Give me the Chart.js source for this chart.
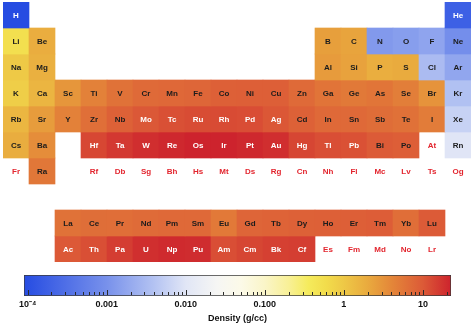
<!DOCTYPE html>
<html>
<head>
<meta charset="utf-8">
<script src="https://cdn.jsdelivr.net/npm/chart.js@4.4.1/dist/chart.umd.min.js"></script>
<style>
  html, body { margin: 0; padding: 0; background: #fff; }
  body { width: 474px; height: 326px; position: relative; overflow: hidden; }
  #table { position: absolute; left: 3px; top: 2px; }
  #bar { position: absolute; left: 0; top: 268px; }
</style>
</head>
<body>
<canvas id="table" width="468" height="260"></canvas>
<canvas id="bar" width="474" height="58"></canvas>
<script>
// periodic table layout, one array per table row ('' = empty slot)
const tableRows = [
  ['H', '', '', '', '', '', '', '', '', '', '', '', '', '', '', '', '', 'He'],
  ['Li', 'Be', '', '', '', '', '', '', '', '', '', '', 'B', 'C', 'N', 'O', 'F', 'Ne'],
  ['Na', 'Mg', '', '', '', '', '', '', '', '', '', '', 'Al', 'Si', 'P', 'S', 'Cl', 'Ar'],
  ['K', 'Ca', 'Sc', 'Ti', 'V', 'Cr', 'Mn', 'Fe', 'Co', 'Ni', 'Cu', 'Zn', 'Ga', 'Ge', 'As', 'Se', 'Br', 'Kr'],
  ['Rb', 'Sr', 'Y', 'Zr', 'Nb', 'Mo', 'Tc', 'Ru', 'Rh', 'Pd', 'Ag', 'Cd', 'In', 'Sn', 'Sb', 'Te', 'I', 'Xe'],
  ['Cs', 'Ba', '', 'Hf', 'Ta', 'W', 'Re', 'Os', 'Ir', 'Pt', 'Au', 'Hg', 'Tl', 'Pb', 'Bi', 'Po', 'At', 'Rn'],
  ['Fr', 'Ra', '', 'Rf', 'Db', 'Sg', 'Bh', 'Hs', 'Mt', 'Ds', 'Rg', 'Cn', 'Nh', 'Fl', 'Mc', 'Lv', 'Ts', 'Og'],
  ['', '', '', '', '', '', '', '', '', '', '', '', '', '', '', '', '', ''],
  ['', '', 'La', 'Ce', 'Pr', 'Nd', 'Pm', 'Sm', 'Eu', 'Gd', 'Tb', 'Dy', 'Ho', 'Er', 'Tm', 'Yb', 'Lu', ''],
  ['', '', 'Ac', 'Th', 'Pa', 'U', 'Np', 'Pu', 'Am', 'Cm', 'Bk', 'Cf', 'Es', 'Fm', 'Md', 'No', 'Lr', '']
];

// density in g/cc, same shape as tableRows (null = no data)
const n = null;
const densityRows = [
  [8.99e-5, n, n, n, n, n, n, n, n, n, n, n, n, n, n, n, n, 1.785e-4],
  [0.535, 1.848, n, n, n, n, n, n, n, n, n, n, 2.46, 2.26, 0.001251, 0.001429, 0.001696, 0.0009],
  [0.968, 1.738, n, n, n, n, n, n, n, n, n, n, 2.70, 2.33, 1.823, 1.96, 0.003214, 0.001784],
  [0.856, 1.55, 2.985, 4.507, 6.11, 7.19, 7.47, 7.874, 8.90, 8.908, 8.96, 7.14, 5.904, 5.323, 5.727, 4.819, 3.12, 0.00375],
  [1.532, 2.63, 4.472, 6.511, 8.57, 10.28, 11.5, 12.37, 12.45, 12.023, 10.49, 8.65, 7.31, 7.31, 6.697, 6.24, 4.94, 0.0059],
  [1.879, 3.51, n, 13.31, 16.65, 19.25, 21.02, 22.61, 22.65, 21.09, 19.3, 13.534, 11.85, 11.34, 9.78, 9.196, n, 0.00973],
  [n, 5.5, n, n, n, n, n, n, n, n, n, n, n, n, n, n, n, n],
  [n, n, n, n, n, n, n, n, n, n, n, n, n, n, n, n, n, n],
  [n, n, 6.146, 6.689, 6.64, 7.01, 7.264, 7.353, 5.244, 7.901, 8.219, 8.551, 8.795, 9.066, 9.321, 6.57, 9.841, n],
  [n, n, 10.07, 11.724, 15.37, 19.05, 20.45, 19.816, 12.0, 13.51, 14.78, 15.1, n, n, n, n, n, n]
];

const groups = Array.from({ length: 18 }, (_, i) => String(i + 1));

const tickValues = [1e-4, 1e-3, 1e-2, 0.1, 1, 10];
const tickLabels = ['10\u207B\u2074', '0.001', '0.010', '0.100', '1', '10'];

const FONT = '"Liberation Sans", Helvetica, Arial, sans-serif';

const allDensities = densityRows.flat().filter(v => v != null);
const densityMin = Math.min(...allDensities);
const densityMax = Math.max(...allDensities);

// blue - white - yellow - red, positions along log(density)
const colorStops = [
  [0.000, [38, 76, 226]],
  [0.194, [120, 145, 235]],
  [0.305, [180, 195, 242]],
  [0.379, [225, 230, 246]],
  [0.453, [246, 246, 244]],
  [0.508, [252, 250, 232]],
  [0.564, [250, 245, 200]],
  [0.620, [248, 240, 150]],
  [0.666, [245, 235, 92]],
  [0.708, [242, 220, 75]],
  [0.749, [238, 200, 70]],
  [0.805, [233, 170, 62]],
  [0.860, [228, 135, 57]],
  [0.934, [220, 90, 55]],
  [1.000, [205, 35, 45]]
];

function rgb(c) {
  return 'rgb(' + c.map(Math.round).join(',') + ')';
}

function densityColor(v) {
  const lo = Math.log10(densityMin), hi = Math.log10(densityMax);
  const t = Math.min(1, Math.max(0, (Math.log10(v) - lo) / (hi - lo)));
  for (let i = 1; i < colorStops.length; i++) {
    const [t1, c1] = colorStops[i];
    if (t <= t1) {
      const [t0, c0] = colorStops[i - 1];
      const f = (t - t0) / (t1 - t0);
      return rgb(c0.map((a, k) => a + (c1[k] - a) * f));
    }
  }
  return rgb(colorStops[colorStops.length - 1][1]);
}

function textColor(d) {
  if (d == null) return '#e3262f';
  return (d >= 10 || d < 5e-4) ? '#ffffff' : '#1c1c1c';
}

const symbolLabels = {
  id: 'symbolLabels',
  afterDatasetsDraw(chart) {
    const { ctx, scales: { x, y } } = chart;
    ctx.save();
    ctx.font = 'bold 8px ' + FONT;
    ctx.textAlign = 'center';
    ctx.textBaseline = 'middle';
    tableRows.forEach((row, r) => row.forEach((sym, c) => {
      if (!sym) return;
      ctx.fillStyle = textColor(densityRows[r][c]);
      ctx.fillText(sym, x.getPixelForValue(c), y.getPixelForValue(r + 0.5) + 0.5);
    }));
    ctx.restore();
  }
};

const datasets = tableRows.map((row, r) => ({
  data: row.map((sym, c) => densityRows[r][c] == null ? null : [r, r + 1]),
  backgroundColor: row.map((sym, c) => densityRows[r][c] == null ? 'rgba(0,0,0,0)' : densityColor(densityRows[r][c])),
  borderWidth: 0,
  grouped: false,
  barPercentage: 1,
  categoryPercentage: 1
}));

new Chart(document.getElementById('table'), {
  type: 'bar',
  data: { labels: groups, datasets },
  options: {
    responsive: false,
    animation: false,
    events: [],
    layout: { padding: 0 },
    plugins: { legend: { display: false }, tooltip: { enabled: false } },
    scales: {
      x: { display: false },
      y: { display: false, min: 0, max: tableRows.length, reverse: true }
    }
  },
  plugins: [symbolLabels]
});

// colour bar
function barGradient(chart) {
  const xs = chart.scales.x;
  if (!xs || !chart.chartArea) return 'rgba(0,0,0,0)';
  const x0 = xs.getPixelForValue(densityMin), x1 = xs.getPixelForValue(densityMax);
  if (!isFinite(x0) || !isFinite(x1) || x1 <= x0) return 'rgba(0,0,0,0)';
  const g = chart.ctx.createLinearGradient(x0, 0, x1, 0);
  colorStops.forEach(([t, c]) => g.addColorStop(t, rgb(c)));
  return g;
}

const tickMarks = {
  id: 'tickMarks',
  afterDatasetsDraw(chart) {
    const { ctx, chartArea } = chart;
    const xs = chart.scales.x;
    const bottom = chartArea.bottom - 1;
    ctx.save();
    ctx.strokeStyle = '#2a2a2a';
    ctx.lineWidth = 1;
    for (let e = -4; e <= 1; e++) {
      for (let m = 1; m <= 9; m++) {
        const v = m * Math.pow(10, e);
        if (v < densityMin || v > densityMax) continue;
        const px = Math.round(xs.getPixelForValue(v)) + 0.5;
        const len = m === 1 ? 5 : 3;
        ctx.beginPath();
        ctx.moveTo(px, bottom);
        ctx.lineTo(px, bottom - len);
        ctx.stroke();
      }
    }
    ctx.restore();
  }
};

new Chart(document.getElementById('bar'), {
  type: 'bar',
  data: {
    labels: [''],
    datasets: [{
      data: [[densityMin, densityMax]],
      backgroundColor: ctx => barGradient(ctx.chart),
      borderColor: '#3a3a3a',
      borderWidth: 1,
      borderSkipped: false,
      barPercentage: 1,
      categoryPercentage: 1
    }]
  },
  options: {
    indexAxis: 'y',
    responsive: false,
    animation: false,
    events: [],
    layout: { padding: { left: 24, right: 23, top: 7, bottom: 0 } },
    plugins: { legend: { display: false }, tooltip: { enabled: false } },
    scales: {
      x: {
        type: 'logarithmic',
        min: densityMin,
        max: densityMax,
        grid: { display: false, drawTicks: false },
        border: { display: false },
        afterBuildTicks: s => { s.ticks = tickValues.map(v => ({ value: v })); },
        afterFit: s => { s.height = 30; },
        ticks: {
          autoSkip: false,
          maxRotation: 0,
          padding: 3,
          color: '#111',
          font: { family: FONT, size: 9, weight: 'bold' },
          callback: (v, i) => tickLabels[i]
        },
        title: {
          display: true,
          text: 'Density (g/cc)',
          color: '#111',
          font: { family: FONT, size: 9, weight: 'bold' },
          padding: { top: 0, bottom: 2 }
        }
      },
      y: { display: false }
    }
  },
  plugins: [tickMarks]
});
</script>
</body>
</html>
